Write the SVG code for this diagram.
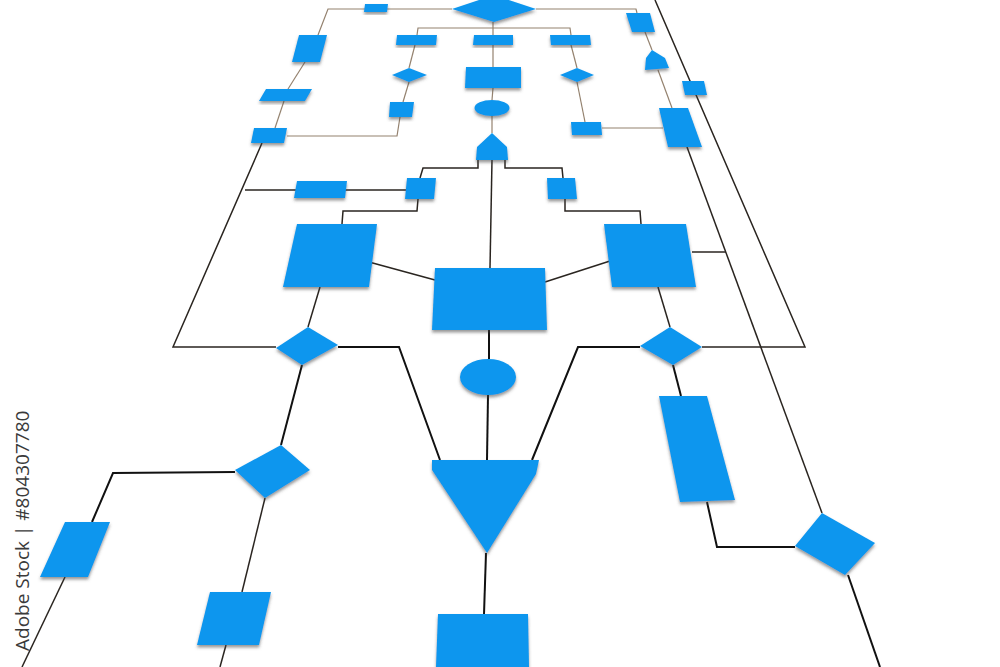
<svg xmlns="http://www.w3.org/2000/svg" width="1000" height="667" viewBox="0 0 1000 667">
<defs>
<filter id="sh" x="-20%" y="-20%" width="140%" height="150%">
<feDropShadow dx="0" dy="2.5" stdDeviation="1.5" flood-color="#444" flood-opacity="0.55"/>
</filter>
</defs>
<style>
.n{fill:#0996ee;filter:url(#sh)}
.far{fill:none;stroke:#94826f;stroke-width:1.2}
.mid{fill:none;stroke:#2a2520;stroke-width:1.5}
.near{fill:none;stroke:#111;stroke-width:2}
.wm{font-family:"Open Sans","Liberation Sans",sans-serif;font-size:19px;fill:#3a3a3a}
</style>
<rect width="1000" height="667" fill="#fff"/>
<g id="connectors">
<polyline class="far" points="318,35 328,9 452,9"/>
<polyline class="far" points="536,9 636,9 637,13"/>
<polyline class="far" points="305,62 288,89"/>
<polyline class="far" points="284,101 275,128"/>
<polyline class="far" points="493,22 493,35"/>
<polyline class="far" points="417,35 418,28 570,28 571,35"/>
<polyline class="far" points="415,45 409,68"/>
<polyline class="far" points="409,82 403,102"/>
<polyline class="far" points="400,117 397,136 287,136"/>
<polyline class="far" points="493,45 493,67"/>
<polyline class="far" points="493,88 492,100"/>
<polyline class="far" points="492,116 492,133"/>
<polyline class="far" points="571,45 577,68"/>
<polyline class="far" points="577,82 585,122"/>
<polyline class="far" points="602,128 663,128"/>
<polyline class="far" points="645,32 652,50"/>
<polyline class="far" points="658,70 672,108"/>
<polyline class="mid" points="655,0 805,347 702,347"/>
<polyline class="mid" points="687,147 822,513"/>
<polyline class="mid" points="262,143 173,347 276,347"/>
<polyline class="mid" points="245,190 406,190"/>
<polyline class="mid" points="478,160 478,168 423,168 420,178"/>
<polyline class="mid" points="505,160 505,168 562,168 563,178"/>
<polyline class="mid" points="492,160 490,268"/>
<polyline class="mid" points="418,199 417,211 343,211 342,224"/>
<polyline class="mid" points="565,199 565,211 640,211 641,224"/>
<polyline class="mid" points="369,262 435,280"/>
<polyline class="mid" points="610,261 545,282"/>
<polyline class="mid" points="692,252 726,252"/>
<polyline class="mid" points="320,287 308,327"/>
<polyline class="mid" points="658,287 670,327"/>
<polyline class="near" points="338,347 399,347 440,460"/>
<polyline class="near" points="640,347 578,347 532,460"/>
<polyline class="near" points="489,330 489,359"/>
<polyline class="near" points="488,395 487,460"/>
<polyline class="near" points="302,365 281,445"/>
<polyline class="near" points="673,365 681,396"/>
<polyline class="near" points="707,502 717,547 795,547"/>
<polyline class="near" points="848,575 880,667"/>
<polyline class="near" points="486,553 484,614"/>
<polyline class="near" points="235,472 113,473 92,522"/>
<polyline class="mid" points="65,577 22,667"/>
<polyline class="mid" points="265,498 242,592"/>
<polyline class="mid" points="226,645 220,667"/>
</g>
<g id="n-top-diamond"><polygon class="n" points="452,9 494,-5 536,9 494,22"/></g>
<g id="n-top-small"><polygon class="n" points="365,4 388,4 387,12 364,12"/></g>
<g id="n-top-right"><polygon class="n" points="626,13 650,13 655,32 632,32"/></g>
<g id="n-left-1"><polygon class="n" points="299,35 327,35 320,62 292,62"/></g>
<g id="n-left-2"><polygon class="n" points="266,89 312,89 305,101 259,101"/></g>
<g id="n-left-3"><polygon class="n" points="254,128 287,128 284,143 251,143"/></g>
<g id="n-row2-left"><polygon class="n" points="397,35 437,35 436,45 396,45"/></g>
<g id="n-row2-center"><polygon class="n" points="474,35 513,35 513,45 473,45"/></g>
<g id="n-row2-right"><polygon class="n" points="550,35 590,35 591,45 551,45"/></g>
<g id="n-dia-left"><polygon class="n" points="392,75 409,68 427,75 409,82"/></g>
<g id="n-dia-right"><polygon class="n" points="560,75 577,68 594,75 577,82"/></g>
<g id="n-center-rect"><polygon class="n" points="466,67 521,67 521,88 465,88"/></g>
<g id="n-ellipse-top"><ellipse class="n" cx="492" cy="108" rx="17.5" ry="8"/></g>
<g id="n-small-left"><polygon class="n" points="390,102 414,102 412,117 389,117"/></g>
<g id="n-small-right"><polygon class="n" points="571,122 601,122 602,135 572,135"/></g>
<g id="n-pent-right"><polygon class="n" points="646,58 652,50 665,58 669,68 645,70"/></g>
<g id="n-right-small"><polygon class="n" points="682,81 704,81 707,95 685,95"/></g>
<g id="n-right-tall"><polygon class="n" points="659,108 688,108 702,147 668,147"/></g>
<g id="n-house"><polygon class="n" points="477,147 492,133 507,147 508,160 476,160"/></g>
<g id="n-row5-a"><polygon class="n" points="297,181 347,181 345,198 294,198"/></g>
<g id="n-row5-b"><polygon class="n" points="407,178 436,178 434,199 405,199"/></g>
<g id="n-row5-c"><polygon class="n" points="547,178 575,178 577,199 548,199"/></g>
<g id="n-big-left"><polygon class="n" points="297,224 377,224 369,287 283,287"/></g>
<g id="n-big-right"><polygon class="n" points="604,224 686,224 696,287 612,287"/></g>
<g id="n-big-center"><polygon class="n" points="435,268 545,268 547,330 432,330"/></g>
<g id="n-dia-mid-left"><polygon class="n" points="276,348 308,327 338,345 302,365"/></g>
<g id="n-dia-mid-right"><polygon class="n" points="640,346 670,327 702,347 673,365"/></g>
<g id="n-ellipse"><ellipse class="n" cx="488" cy="377" rx="28" ry="18"/></g>
<g id="n-triangle"><polygon class="n" points="432,460 539,460 536,474 487,553 432,470"/></g>
<g id="n-tall"><polygon class="n" points="659,396 707,396 735,500 680,502"/></g>
<g id="n-dia-low-right"><polygon class="n" points="795,546 822,513 875,543 845,575"/></g>
<g id="n-bottom"><polygon class="n" points="438,614 528,614 529,667 436,667"/></g>
<g id="n-dia-low-left"><polygon class="n" points="235,470 281,445 310,470 265,498"/></g>
<g id="n-para-low-left"><polygon class="n" points="65,522 110,522 88,577 40,577"/></g>
<g id="n-rect-low"><polygon class="n" points="210,592 271,592 259,645 197,645"/></g>
<text class="wm" transform="translate(29,651) rotate(-90)">Adobe Stock | #804307780</text>
</svg>
